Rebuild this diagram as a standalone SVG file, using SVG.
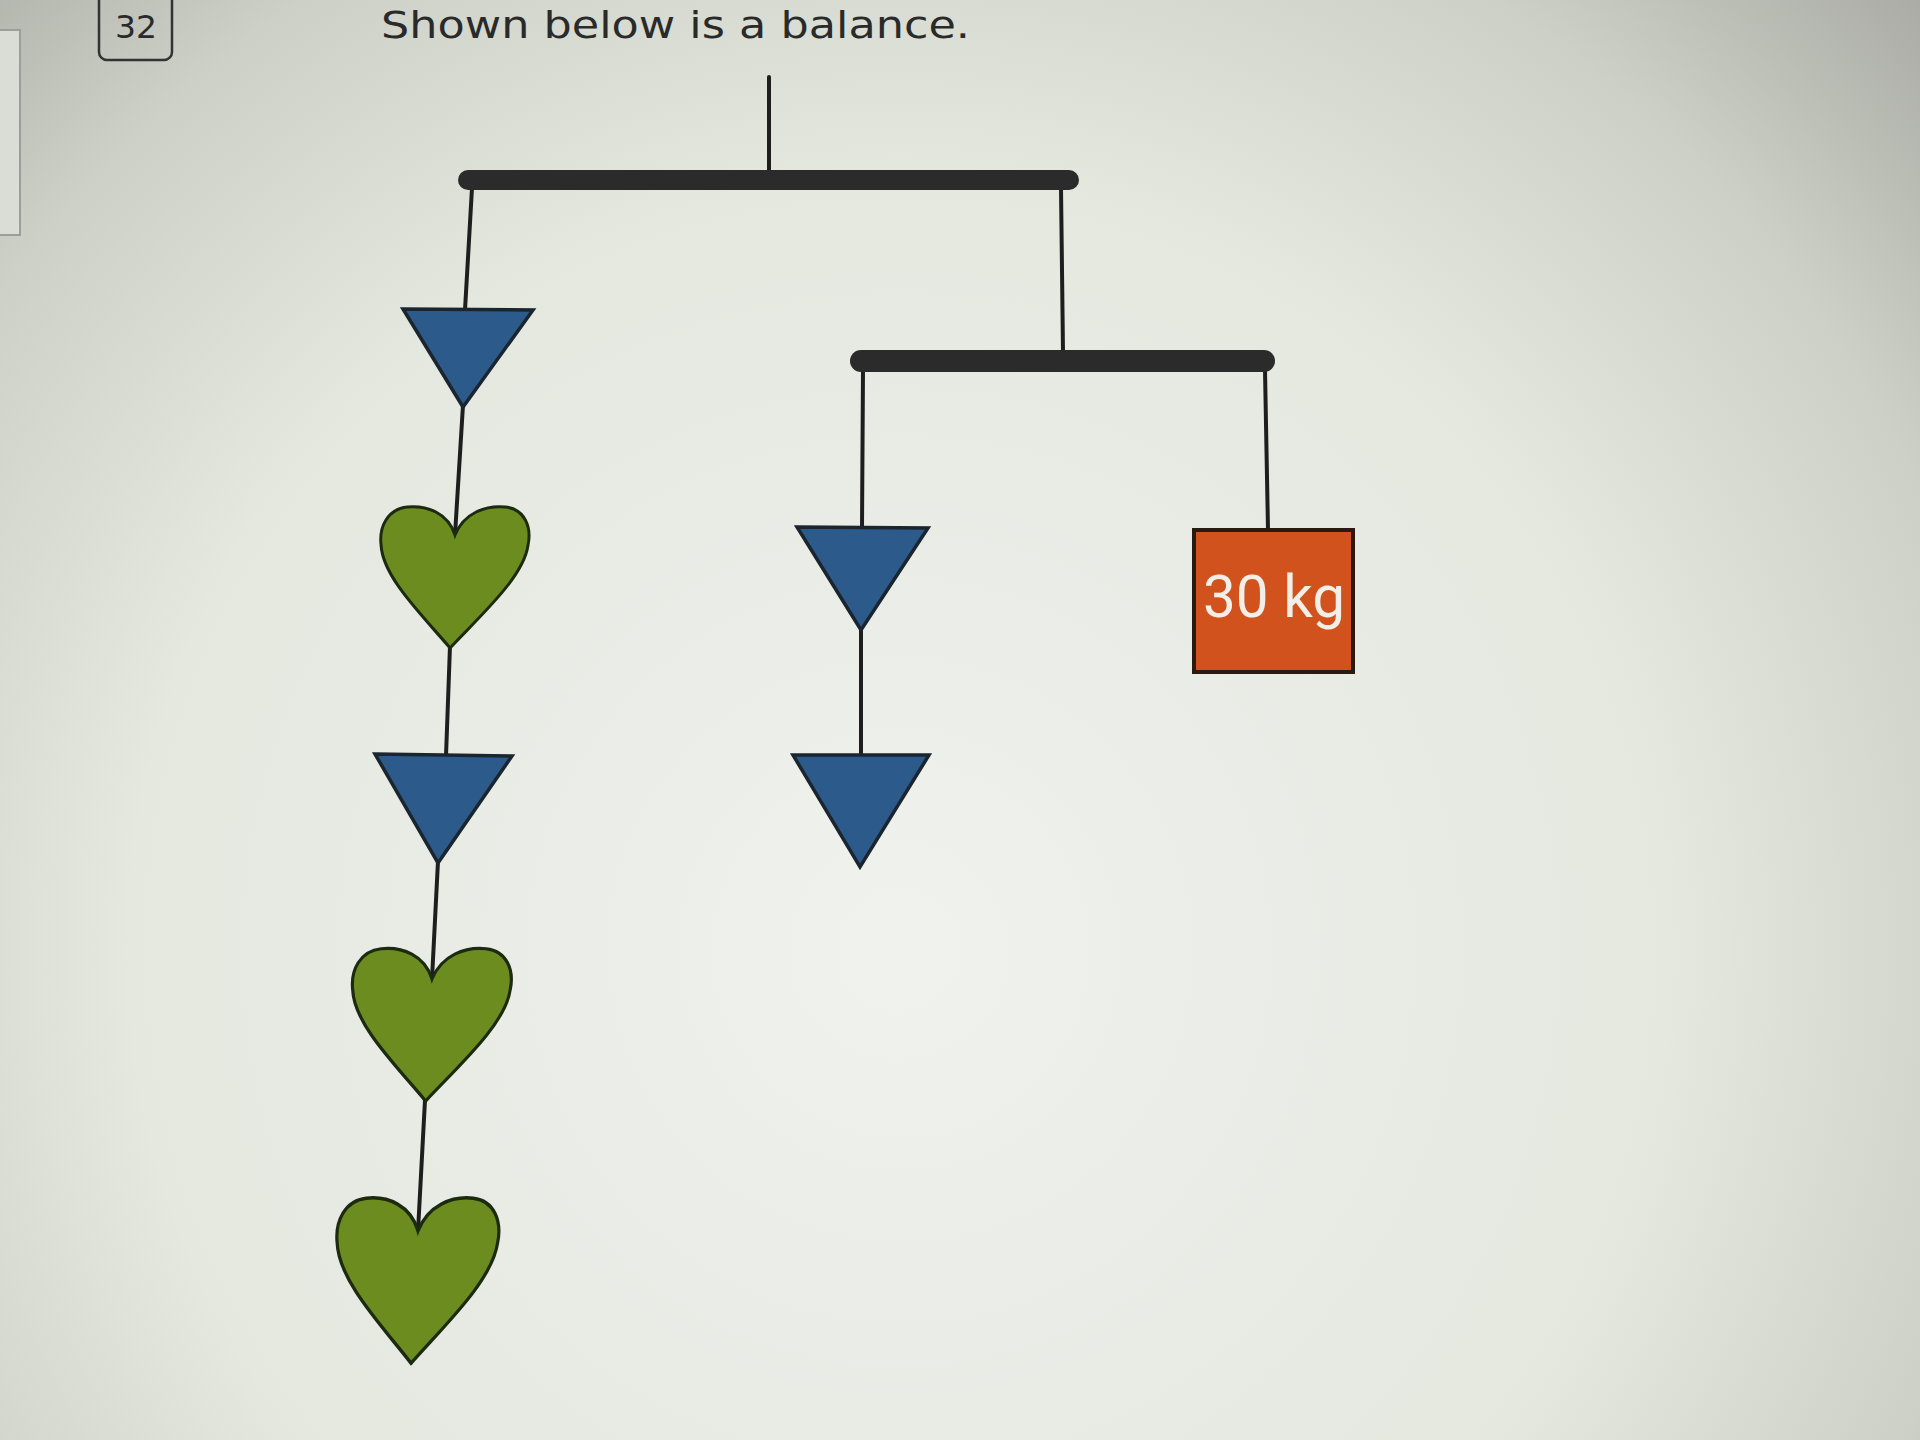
<svg xmlns="http://www.w3.org/2000/svg" width="1920" height="1440" viewBox="0 0 1920 1440">
  <defs>
    <radialGradient id="bg" cx="900" cy="950" r="1400" gradientUnits="userSpaceOnUse">
      <stop offset="0" stop-color="#f0f2ee"/>
      <stop offset="0.55" stop-color="#e4e8df"/>
      <stop offset="0.8" stop-color="#cdd0c7"/>
      <stop offset="1" stop-color="#a9aba4"/>
    </radialGradient>
    <path id="heart" d="M 0,0 C -8,-22 -30,-30 -50,-28 C -70,-26 -78,-8 -75,10 C -72,42 -30,80 0,113 C 30,80 72,42 75,10 C 78,-8 70,-26 50,-28 C 30,-30 8,-22 0,0 Z"/>
  </defs>
  <style>
    .string { stroke: #1e1e1e; stroke-width: 4; fill: none; stroke-linecap: round; }
    .bar { stroke: #2b2b2b; stroke-linecap: round; fill: none; }
    .tri { fill: #2c5b8b; stroke: #1a2530; stroke-width: 3.5; stroke-linejoin: miter; }
    .heart { fill: #6d8c20; stroke: #1c2a10; stroke-width: 3; }
    .title { font-family: "DejaVu Sans", "Liberation Sans", sans-serif; font-size: 38px; fill: #2a2a2a; }
    .num { font-family: "DejaVu Sans", "Liberation Sans", sans-serif; font-size: 32px; fill: #2a2a2a; }
    .kg { font-family: Roboto, "Liberation Sans", sans-serif; font-size: 60px; fill: #f2efe8; }
  </style>

  <rect x="0" y="0" width="1920" height="1440" fill="url(#bg)"/>
  <rect x="-4" y="30" width="24" height="205" fill="#dadcd6" stroke="#9c9e99" stroke-width="2"/>

  <g id="question-number">
    <rect x="99" y="-12" width="73" height="72" rx="8" fill="none" stroke="#333333" stroke-width="2.5"/>
    <text class="num" x="136" y="38" text-anchor="middle" textLength="42" lengthAdjust="spacingAndGlyphs">32</text>
  </g>

  <g id="title">
    <text class="title" x="381" y="38" textLength="589" lengthAdjust="spacingAndGlyphs">Shown below is a balance.</text>
  </g>

  <g id="connectors">
    <line class="string" x1="769" y1="77" x2="769" y2="172"/>
    <line class="string" x1="472" y1="188" x2="465" y2="310"/>
    <line class="string" x1="463" y1="405" x2="455" y2="535"/>
    <line class="string" x1="450" y1="646" x2="446" y2="756"/>
    <line class="string" x1="438" y1="861" x2="432" y2="979"/>
    <line class="string" x1="425" y1="1100" x2="418" y2="1231"/>
    <line class="string" x1="1061" y1="188" x2="1063" y2="352"/>
    <line class="string" x1="863" y1="370" x2="862" y2="528"/>
    <line class="string" x1="861" y1="628" x2="861" y2="756"/>
    <line class="string" x1="1265" y1="370" x2="1268" y2="530"/>
  </g>

  <g id="beam-top">
    <line class="bar" x1="468" y1="180" x2="1069" y2="180" stroke-width="20"/>
  </g>
  <g id="beam-right">
    <line class="bar" x1="861" y1="361" x2="1264" y2="361" stroke-width="22"/>
  </g>

  <g id="triangle-1"><polygon class="tri" points="403,309 533,310 463,407"/></g>
  <g id="heart-1"><use href="#heart" class="heart" transform="translate(455,535) skewX(-2.5) scale(0.98,1)"/></g>
  <g id="triangle-2"><polygon class="tri" points="375,754 512,756 438,863"/></g>
  <g id="heart-2"><use href="#heart" class="heart" transform="translate(432,979) skewX(-3) scale(1.05,1.08)"/></g>
  <g id="heart-3"><use href="#heart" class="heart" transform="translate(418,1231) skewX(-3) scale(1.07,1.17)"/></g>

  <g id="triangle-3"><polygon class="tri" points="797,527 928,528 861,630"/></g>
  <g id="triangle-4"><polygon class="tri" points="793,755 929,755 860,867"/></g>

  <g id="weight-30kg">
    <rect x="1194" y="530" width="159" height="142" fill="#d2521d" stroke="#2a1a12" stroke-width="4"/>
    <text class="kg" x="1274" y="617" text-anchor="middle" textLength="142" lengthAdjust="spacingAndGlyphs">30 kg</text>
  </g>
</svg>
